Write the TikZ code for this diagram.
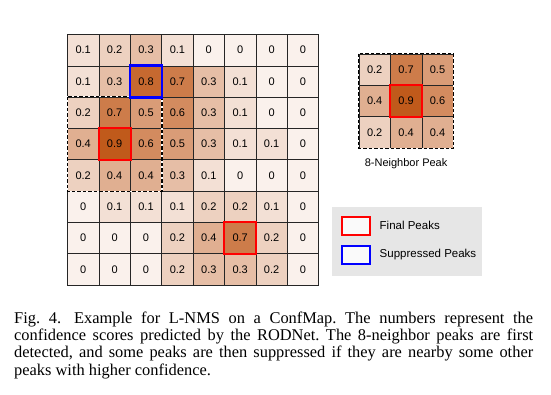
\documentclass[tikz,border=0pt]{standalone}
\usepackage{fontspec}
\setmainfont{Liberation Serif}
\setsansfont{Liberation Sans}
\usetikzlibrary{positioning}
\hyphenpenalty=10000
\exhyphenpenalty=10000
\frenchspacing
\definecolor{cellbase}{RGB}{190,85,20}
\definecolor{legendbg}{RGB}{230,230,230}
\tikzset{
  cell/.style={draw=black!85, line width=0.6pt, minimum width=31.4pt, minimum height=31.3pt, inner sep=0pt, font=\sffamily\fontsize{11}{13}\selectfont},
  finalpeak/.style={draw=red, line width=2.2pt},
  supppeak/.style={draw=blue, line width=2.2pt},
  nbbox/.style={draw=black, dash pattern=on 3.5pt off 2pt, line width=1.3pt, preaction={draw=white, solid, line width=1.3pt}},
  legkey/.style={fill=black!2, line width=2pt, minimum width=28pt, minimum height=18pt, inner sep=0pt},
  legtext/.style={font=\sffamily\fontsize{11.5}{13}\selectfont, inner sep=0pt, anchor=west}
}

\begin{document}
\begin{tikzpicture}[x=1pt, y=-1pt]
  \useasboundingbox (0,0) rectangle (551,394);

  \foreach \row [count=\r from 0] in {{0.1,0.2,0.3,0.1,0,0,0,0},{0.1,0.3,0.8,0.7,0.3,0.1,0,0},{0.2,0.7,0.5,0.6,0.3,0.1,0,0},{0.4,0.9,0.6,0.5,0.3,0.1,0.1,0},{0.2,0.4,0.4,0.3,0.1,0,0,0},{0,0.1,0.1,0.1,0.2,0.2,0.1,0},{0,0,0,0.2,0.4,0.7,0.2,0},{0,0,0,0.2,0.3,0.3,0.2,0}}{
    \foreach \v [count=\c from 0] in \row {
      \pgfmathtruncatemacro\pct{min(100,100*\v+8)}
      \node[cell, fill=cellbase!\pct!white] (m-\r-\c) at ({83.2+31.4*\c},{50.15+31.3*\r}) {\v};
    }
  }
  \draw[nbbox] (m-2-0.north west) rectangle (m-4-2.south east);
  \draw[supppeak] (m-1-2.north west) rectangle (m-1-2.south east);
  \draw[finalpeak] (m-3-1.north west) rectangle (m-3-1.south east);
  \draw[finalpeak] (m-6-5.north west) rectangle (m-6-5.south east);

  \foreach \row [count=\r from 0] in {{0.2,0.7,0.5},{0.4,0.9,0.6},{0.2,0.4,0.4}}{
    \foreach \v [count=\c from 0] in \row {
      \pgfmathtruncatemacro\pct{min(100,100*\v+8)}
      \node[cell, fill=cellbase!\pct!white] (n-\r-\c) at ({374.7+31.4*\c},{69.65+31.3*\r}) {\v};
    }
  }
  \draw[nbbox] (n-0-0.north west) rectangle (n-2-2.south east);
  \draw[finalpeak] (n-1-1.north west) rectangle (n-1-1.south east);
  \node[font=\sffamily\fontsize{11}{13}\selectfont, below=7pt of n-2-1] (nblabel) {8-Neighbor Peak};

  \fill[legendbg] (331.7,207) rectangle (482,276);
  \node[legkey, draw=red] (kfinal) at (355.5,225.5) {};
  \node[legkey, draw=blue, below=9.5pt of kfinal] (ksupp) {};
  \node[legtext, right=9pt of kfinal] (tfinal) {Final Peaks};
  \node[legtext, right=9pt of ksupp] (tsupp) {Suppressed Peaks};

  \node[anchor=north west, text width=519pt, align=justify, inner sep=0pt, font=\fontsize{16.4}{17.3}\selectfont] (caption) at (14,311.5) {Fig.~4.\hspace{0.8em}Example for L-NMS on a ConfMap. The numbers represent the confidence scores predicted by the RODNet. The 8-neighbor peaks are first detected, and some peaks are then suppressed if they are nearby some other peaks with higher confidence.};
\end{tikzpicture}
\end{document}
